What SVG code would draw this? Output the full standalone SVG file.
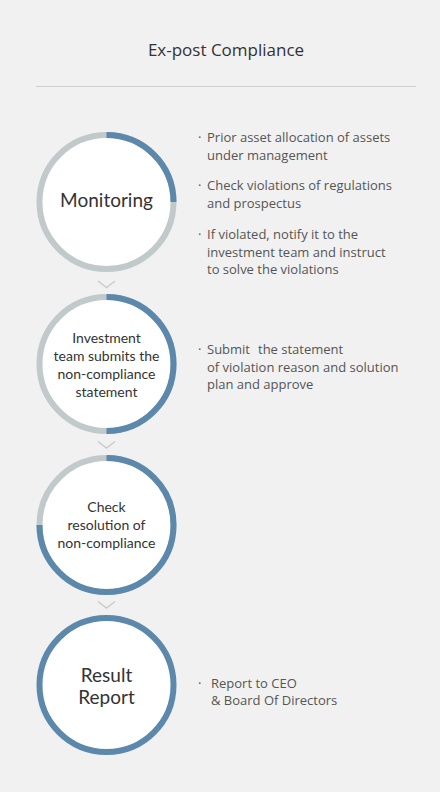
<svg xmlns="http://www.w3.org/2000/svg" width="440" height="792" viewBox="0 0 440 792">
<style>
.title{font-family:"Open Sans","Noto Sans",sans-serif;font-size:17px;fill:#333;}
.desc{font-family:"Open Sans","Noto Sans",sans-serif;font-size:13px;fill:#555;}
.node{font-family:Lato,"Open Sans",sans-serif;fill:#333;text-anchor:middle;}
.big{font-size:19px;}
.small{font-size:14px;}
.face{fill:#fff;}
.gray{fill:none;stroke:#c2c9ca;stroke-width:6;}
.blue{fill:none;stroke:#5b88ab;stroke-width:6;}
.chev{fill:none;stroke:#cccccc;stroke-width:1.5;}
</style>
<rect x="0" y="0" width="440" height="792" fill="#f1f1f1"/>
<text class="title" x="226" y="56" text-anchor="middle">Ex-post Compliance</text>
<line x1="36" y1="86.5" x2="416" y2="86.5" stroke="#cfcfcf" stroke-width="1"/>

<g id="connectors">
<polyline class="chev" points="98,281 106.5,287.5 115,281"/>
<polyline class="chev" points="98,441.5 106.5,448 115,441.5"/>
<polyline class="chev" points="98,601.5 106.5,608 115,601.5"/>
</g>

<g id="monitoring">
<circle class="face" cx="106.5" cy="202" r="67"/>
<circle class="gray" cx="106.5" cy="202" r="67"/>
<path class="blue" d="M106.5,135 A67,67 0 0 1 173.5,202"/>
<text class="node big" x="106.5" y="207">Monitoring</text>
</g>

<g id="submit">
<circle class="face" cx="106.5" cy="364" r="67"/>
<circle class="gray" cx="106.5" cy="364" r="67"/>
<path class="blue" d="M106.5,297 A67,67 0 0 1 106.5,431"/>
<text class="node small" x="106.5"><tspan x="106.5" y="343">Investment</tspan><tspan x="106.5" y="361">team submits the</tspan><tspan x="106.5" y="379">non-compliance</tspan><tspan x="106.5" y="397">statement</tspan></text>
</g>

<g id="check">
<circle class="face" cx="106.5" cy="525" r="67"/>
<circle class="gray" cx="106.5" cy="525" r="67"/>
<path class="blue" d="M106.5,458 A67,67 0 1 1 39.5,525"/>
<text class="node small" x="106.5"><tspan x="106.5" y="512">Check</tspan><tspan x="106.5" y="530">resolution of</tspan><tspan x="106.5" y="548">non-compliance</tspan></text>
</g>

<g id="result">
<circle class="face" cx="106.5" cy="685" r="67"/>
<circle class="blue" cx="106.5" cy="685" r="67"/>
<text class="node big" x="106.5"><tspan x="106.5" y="682">Result</tspan><tspan x="106.5" y="704">Report</tspan></text>
</g>

<g id="desc-monitoring">
<text class="desc"><tspan x="198" y="142">·</tspan><tspan x="207" y="142">Prior asset allocation of assets</tspan><tspan x="207" y="160">under management</tspan></text>
<text class="desc"><tspan x="198" y="190">·</tspan><tspan x="207" y="190">Check violations of regulations</tspan><tspan x="207" y="208">and prospectus</tspan></text>
<text class="desc"><tspan x="198" y="239">·</tspan><tspan x="207" y="239">If violated, notify it to the</tspan><tspan x="207" y="257">investment team and instruct</tspan><tspan x="207" y="274">to solve the violations</tspan></text>
</g>
<g id="desc-submit">
<text class="desc"><tspan x="198" y="354">·</tspan><tspan x="207" y="354">Submit</tspan><tspan x="258" y="354">the statement</tspan><tspan x="207" y="372">of violation reason and solution</tspan><tspan x="207" y="389">plan and approve</tspan></text>
</g>
<g id="desc-result">
<text class="desc"><tspan x="198" y="688">·</tspan><tspan x="211" y="688">Report to CEO</tspan><tspan x="211" y="705">&amp; Board Of Directors</tspan></text>
</g>
</svg>
